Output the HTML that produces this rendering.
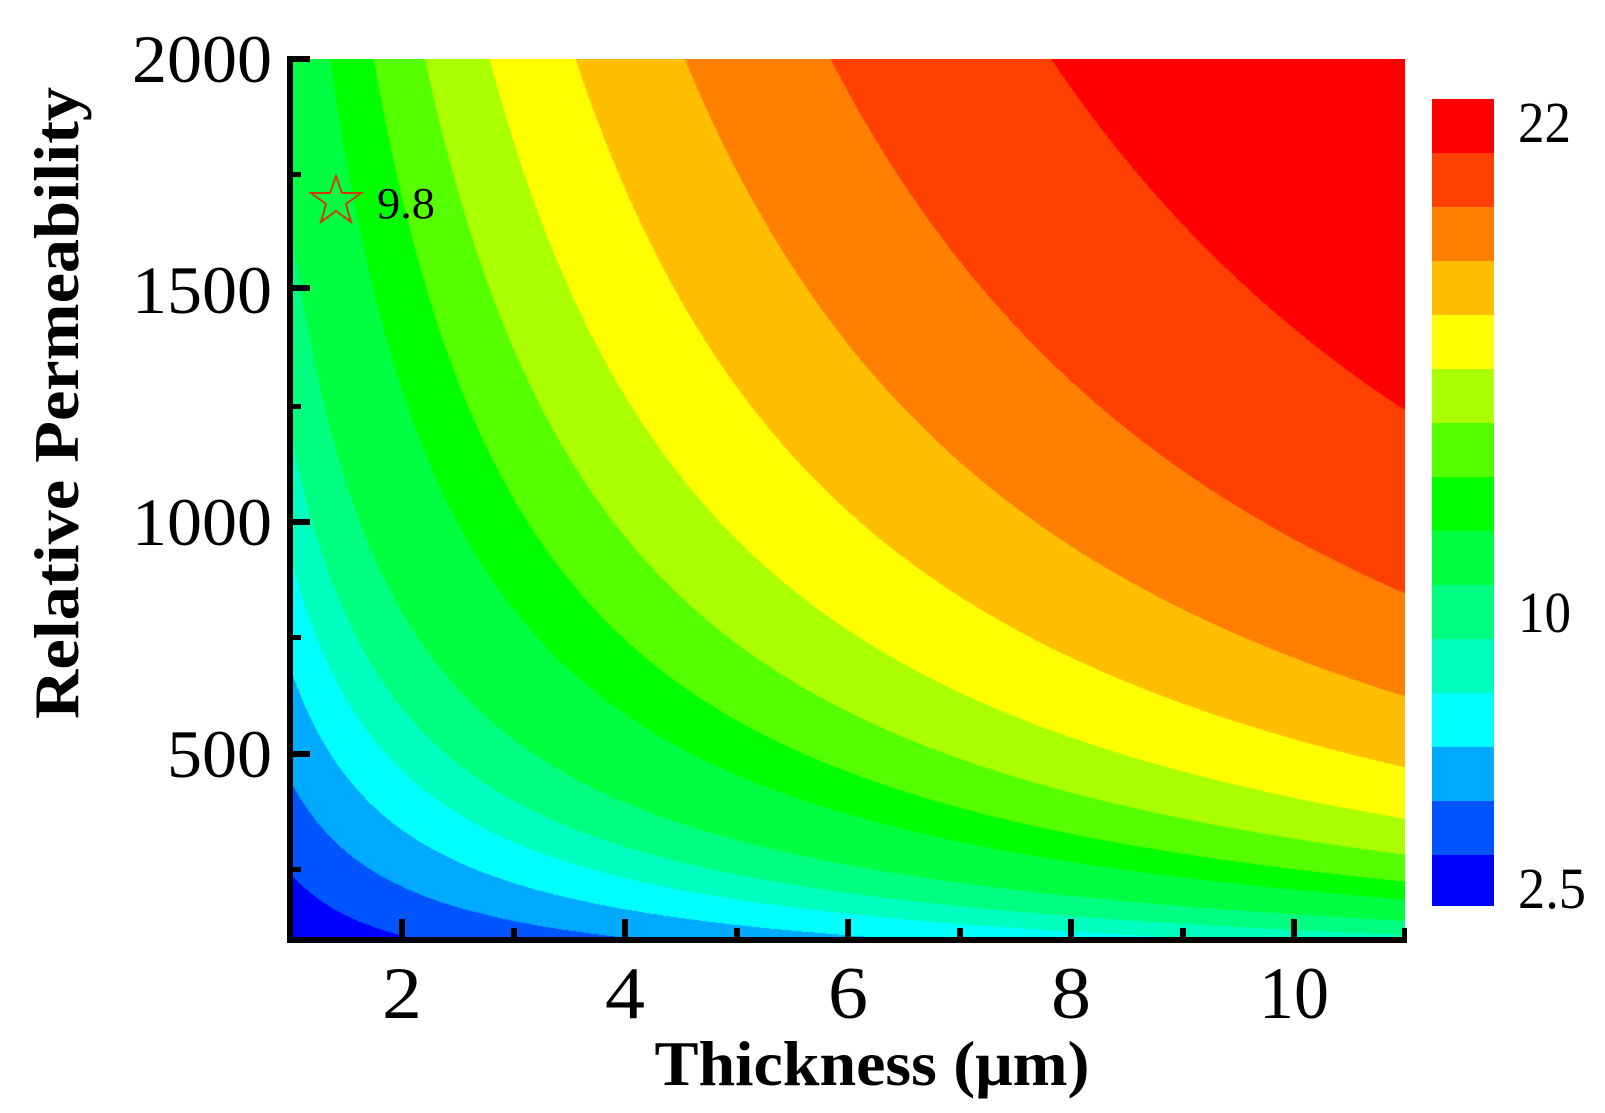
<!DOCTYPE html>
<html><head><meta charset="utf-8"><style>
html,body{margin:0;padding:0;background:#fff;}
#wrap{position:relative;width:1605px;height:1113px;overflow:hidden;}
canvas{position:absolute;left:290px;top:59px;}
svg{position:absolute;left:0;top:0;}
</style></head><body><div id="wrap">
<canvas id="c" width="1115" height="881"></canvas>
<svg width="1605" height="1113" xmlns="http://www.w3.org/2000/svg" font-family="'Liberation Serif', serif">
<!-- colorbar -->
<g>
<rect x="1432" y="99" width="62" height="54" fill="#FF0000"/>
<rect x="1432" y="153" width="62" height="54" fill="#FF4000"/>
<rect x="1432" y="207" width="62" height="54" fill="#FF8000"/>
<rect x="1432" y="261" width="62" height="54" fill="#FFBF00"/>
<rect x="1432" y="315" width="62" height="54" fill="#FFFF00"/>
<rect x="1432" y="369" width="62" height="54" fill="#AAFF00"/>
<rect x="1432" y="423" width="62" height="54" fill="#55FF00"/>
<rect x="1432" y="477" width="62" height="54" fill="#00FF00"/>
<rect x="1432" y="531" width="62" height="54" fill="#00FF40"/>
<rect x="1432" y="585" width="62" height="54" fill="#00FF80"/>
<rect x="1432" y="639" width="62" height="54" fill="#00FFBF"/>
<rect x="1432" y="693" width="62" height="54" fill="#00FFFF"/>
<rect x="1432" y="747" width="62" height="54" fill="#00AAFF"/>
<rect x="1432" y="801" width="62" height="54" fill="#0055FF"/>
<rect x="1432" y="855" width="62" height="51" fill="#0000FF"/>
</g>
<g font-size="58" fill="#000">
<text x="1518" y="142" textLength="53" lengthAdjust="spacingAndGlyphs">22</text>
<text x="1518" y="632" textLength="53" lengthAdjust="spacingAndGlyphs">10</text>
<text x="1518" y="908" textLength="68" lengthAdjust="spacingAndGlyphs">2.5</text>
</g>
<!-- axes -->
<g fill="#000">
<rect x="287" y="56" width="6" height="887"/>
<rect x="287" y="937" width="1120" height="6"/>
<!-- y ticks major -->
<rect x="290" y="56" width="20" height="6"/>
<rect x="290" y="285" width="20" height="6"/>
<rect x="290" y="519" width="20" height="6"/>
<rect x="290" y="751" width="20" height="6"/>
<!-- y ticks minor -->
<rect x="290" y="172" width="11" height="5"/>
<rect x="290" y="404" width="11" height="5"/>
<rect x="290" y="635" width="11" height="5"/>
<rect x="290" y="867" width="11" height="5"/>
<!-- x ticks major -->
<rect x="399" y="919" width="6" height="20"/>
<rect x="622" y="919" width="6" height="20"/>
<rect x="845" y="919" width="6" height="20"/>
<rect x="1068" y="919" width="6" height="20"/>
<rect x="1291" y="919" width="6" height="20"/>
<!-- x ticks minor -->
<rect x="511" y="928" width="6" height="11"/>
<rect x="734" y="928" width="6" height="11"/>
<rect x="957" y="928" width="6" height="11"/>
<rect x="1180" y="928" width="6" height="11"/>
<rect x="1402" y="928" width="5" height="11"/>
</g>
<g font-size="74" fill="#000" text-anchor="middle">
<text x="402" y="1018" textLength="40" lengthAdjust="spacingAndGlyphs">2</text>
<text x="625" y="1018" textLength="40" lengthAdjust="spacingAndGlyphs">4</text>
<text x="848" y="1018" textLength="40" lengthAdjust="spacingAndGlyphs">6</text>
<text x="1071" y="1018" textLength="40" lengthAdjust="spacingAndGlyphs">8</text>
<text x="1294" y="1018" textLength="70" lengthAdjust="spacingAndGlyphs">10</text>
</g>
<g font-size="68" fill="#000" text-anchor="end">
<text x="272" y="82" textLength="140" lengthAdjust="spacingAndGlyphs">2000</text>
<text x="272" y="313" textLength="140" lengthAdjust="spacingAndGlyphs">1500</text>
<text x="272" y="545" textLength="140" lengthAdjust="spacingAndGlyphs">1000</text>
<text x="272" y="777" textLength="105" lengthAdjust="spacingAndGlyphs">500</text>
</g>
<text x="872" y="1085" font-size="64" font-weight="bold" text-anchor="middle" textLength="435" lengthAdjust="spacingAndGlyphs">Thickness (μm)</text>
<text transform="translate(78,403) rotate(-90)" font-size="64" font-weight="bold" text-anchor="middle" textLength="632" lengthAdjust="spacingAndGlyphs">Relative Permeability</text>
<!-- star -->
<polygon points="336,176 342,193 361,193 346,204 351,222 336,211 321,222 326,204 311,193 330,193" fill="none" stroke="#D03A10" stroke-width="2"/>
<text x="377" y="218" font-size="44" fill="#000" textLength="58" lengthAdjust="spacingAndGlyphs">9.8</text>
</svg>
</div>
<script>
(function(){
var cv=document.getElementById('c'),ctx=cv.getContext('2d');
var W=cv.width,H=cv.height;
var img=ctx.createImageData(W,H),d=img.data;
var cols=[[0,0,255],[0,85,255],[0,170,255],[0,255,255],[0,255,191],[0,255,128],[0,255,64],[0,255,0],[85,255,0],[170,255,0],[255,255,0],[255,191,0],[255,128,0],[255,64,0],[255,0,0]];
var P=[0.85,0.95,0.97,1.0,1.0,0.97,0.88,0.84,0.82,0.80,0.78,0.76,0.735,0.714];
var C=[4.673,5.791,6.338,6.835,7.090,7.187,6.996,6.945,7.026,7.107,7.199,7.290,7.353,7.485];
for(var y=0;y<H;y++){
 var py=y+59+0.5;
 var mu=2000-(py-59.5)/0.463; if(mu<1)mu=1;
 var lm=Math.log(mu);
 for(var x=0;x<W;x++){
  var px=x+290+0.5;
  var t=1+(px-290)/111.5;
  var lt=Math.log(t);
  var b=0;
  for(var k=0;k<14;k++){ if(lt+P[k]*lm>C[k]) b++; }
  var c=cols[b],i=(y*W+x)*4;
  d[i]=c[0];d[i+1]=c[1];d[i+2]=c[2];d[i+3]=255;
 }
}
ctx.putImageData(img,0,0);
})();
</script>
</body></html>
